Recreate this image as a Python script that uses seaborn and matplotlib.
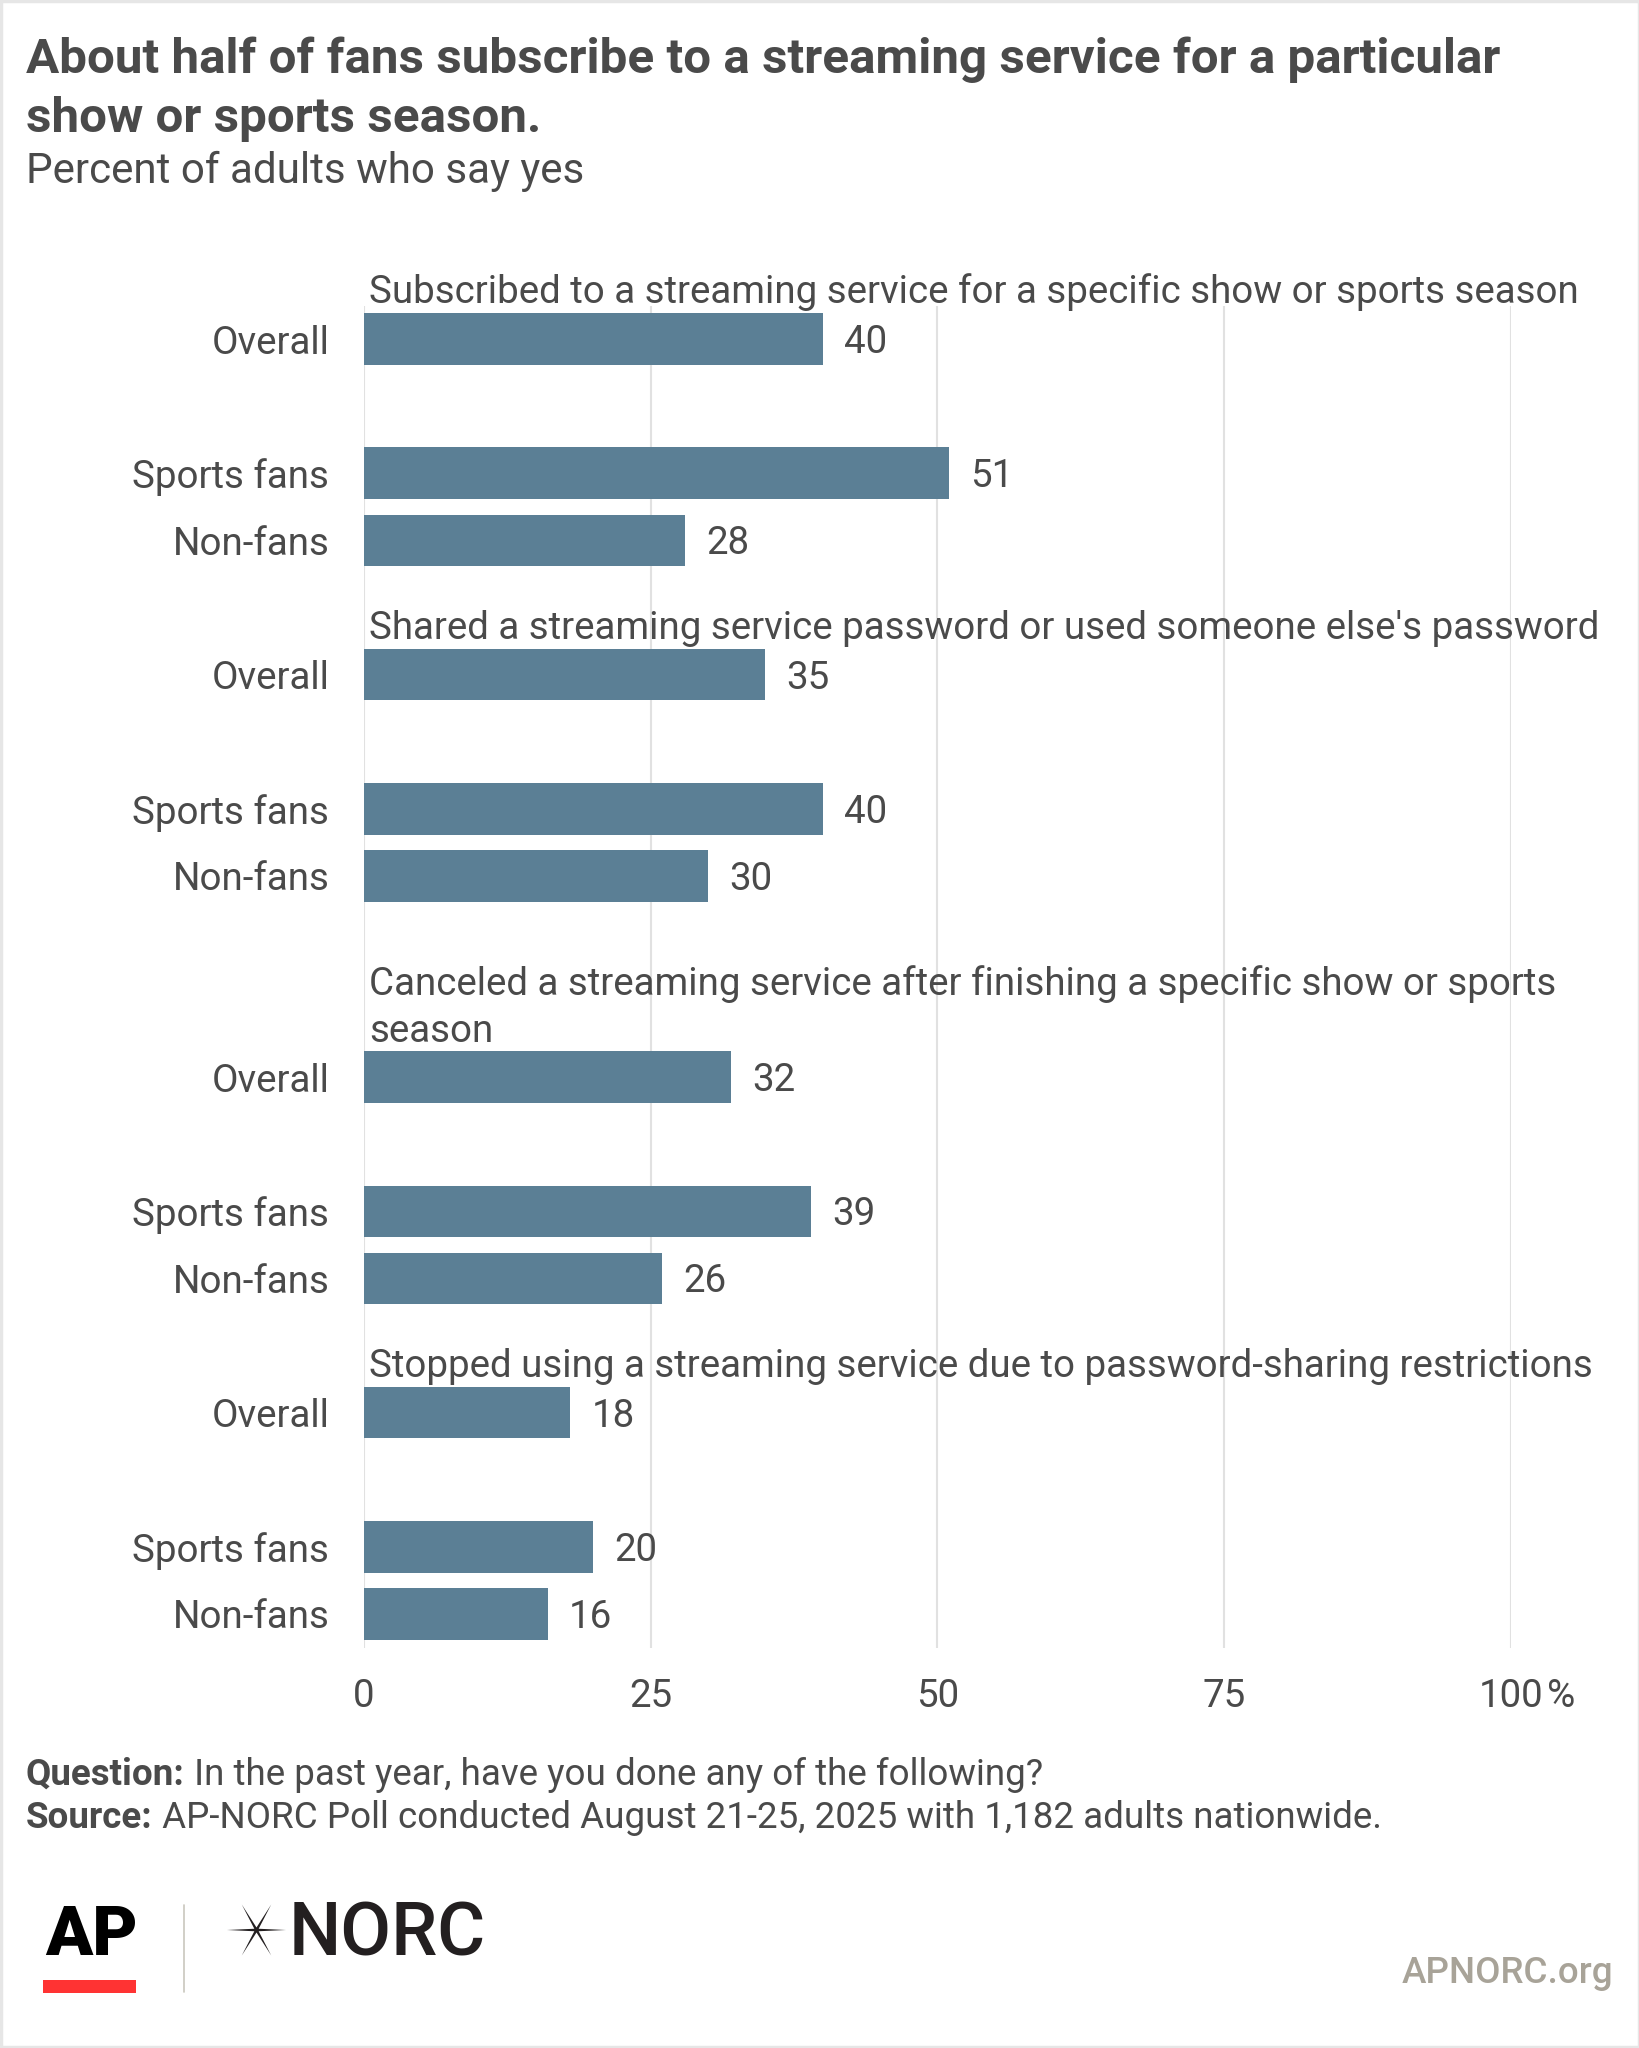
import numpy as np
import pandas as pd
import matplotlib
matplotlib.use('Agg')
import matplotlib.pyplot as plt
from matplotlib.patches import Rectangle, Polygon
import seaborn as sns

# values
title_lines = ["About half of fans subscribe to a streaming service for a particular",
               "show or sports season."]
subtitle = "Percent of adults who say yes"
group_titles = [
    "Subscribed to a streaming service for a specific show or sports season",
    "Shared a streaming service password or used someone else's password",
    "Canceled a streaming service after finishing a specific show or sports\nseason",
    "Stopped using a streaming service due to password-sharing restrictions",
]
row_labels = ["Overall", "Sports fans", "Non-fans"]
overall = [40, 35, 32, 18]
sports_fans = [51, 40, 39, 20]
non_fans = [28, 30, 26, 16]
x_ticks = [0, 25, 50, 75, 100]
question = "In the past year, have you done any of the following?"
source = "AP-NORC Poll conducted August 21-25, 2025 with 1,182 adults nationwide."

BAR = '#5b7f95'
TXT = '#4a4a4a'
GRID = '#e1e1e1'
FS = 27.7  # label font size

# build the long table, leaving gaps between groups (one extra row for a wrapped title)
rows = []
pos = 0
for i, g in enumerate(group_titles):
    pos += g.count('\n')
    vals = [overall[i], sports_fans[i], non_fans[i]]
    for lab, off, v in zip(row_labels, [0, 2, 3], vals):
        rows.append(dict(group=i, label=lab, pos=pos + off, value=v))
    pos += 5
df = pd.DataFrame(rows)

sns.set_style('white')
plt.rcParams['font.family'] = ['Roboto', 'DejaVu Sans']

W, H = 1640, 2048
fig = plt.figure(figsize=(W / 100, H / 100), dpi=100)

# background axes in pixel coordinates for titles, footer and logos
bg = fig.add_axes([0, 0, 1, 1])
bg.set_xlim(0, W)
bg.set_ylim(H, 0)
bg.axis('off')

ax = fig.add_axes([364 / W, 1 - 1647.5 / H, 1147 / W, 1342 / H])
ax.patch.set_alpha(0)

sns.barplot(data=df, x='value', y='pos', orient='h', native_scale=True,
            width=0.77, color=BAR, saturation=1, errorbar=None, linewidth=0, ax=ax)
for t in ax.bar_label(ax.containers[0], padding=15, fontsize=FS, color=TXT):
    t.xyann = (15, -2.5)

ax.set_xlim(0, 100)
ax.set_ylim(19.5, -0.5)
ax.set_yticks(df['pos'])
ax.set_yticklabels(df['label'])
ax.set_xticks(x_ticks)
ax.set_xticklabels([str(t) for t in x_ticks])
ax.tick_params(axis='y', length=0, pad=25, labelsize=FS, labelcolor=TXT)
ax.tick_params(axis='x', length=0, pad=22, labelsize=FS, labelcolor=TXT)
for t in ax.get_yticklabels():
    t.set_va('center_baseline')
ax.grid(axis='x', color=GRID, lw=1.5)
ax.grid(axis='y', visible=False)
ax.set_axisbelow(True)
ax.set_xlabel('')
ax.set_ylabel('')
for s in ax.spines.values():
    s.set_visible(False)
ax.annotate('%', xy=(100, 0), xycoords=('data', 'axes fraction'), xytext=(26, -22),
            textcoords='offset points', ha='left', va='top', fontsize=FS, color=TXT)

# group headings above each Overall bar
for i, g in enumerate(group_titles):
    p = df.loc[(df.group == i) & (df.label == 'Overall'), 'pos'].iloc[0]
    for k, line in enumerate(reversed(g.split('\n'))):
        ax.annotate(line, xy=(0, p - 0.53), xycoords='data', xytext=(3.5, 33.8 * k),
                    textcoords='offset points', ha='left', va='baseline',
                    fontsize=FS, color=TXT, annotation_clip=False)

# title block
for k, line in enumerate(title_lines):
    bg.text(26, 73.3 + 58.4 * k, line, fontsize=35.6, weight='bold', color=TXT, va='baseline')
bg.text(26, 183, subtitle, fontsize=30.3, color=TXT, va='baseline')

# footer
qt = bg.text(26, 1785, "Question:", fontsize=26.5, weight='bold', color=TXT, va='baseline')
bg.annotate(" " + question, xy=(1, 0), xycoords=qt, va='bottom', ha='left', fontsize=26.5, color=TXT)
st = bg.text(26, 1828, "Source:", fontsize=26.5, weight='bold', color=TXT, va='baseline')
bg.annotate(" " + source, xy=(1, 0), xycoords=st, va='bottom', ha='left', fontsize=26.5, color=TXT)

# logos
bg.text(45, 1955, "AP", fontsize=50, weight='black', color='black', va='baseline')
bg.add_patch(Rectangle((43, 1980), 93, 13, color='#ff3333', lw=0))
bg.plot([184, 184], [1905, 1992], color='#c9c7bd', lw=1.2)
ang = np.deg2rad(np.arange(12) * 30)
rad = np.where(np.arange(12) % 2 == 0, 29.5, 2.5)
bg.add_patch(Polygon(np.c_[256.5 + rad * np.cos(ang), 1930 + rad * np.sin(ang)],
                     closed=True, color='#231f20', lw=0))
bg.text(289, 1955, "NORC", fontsize=53, weight='medium', color='#231f20', va='baseline')
bg.text(1613, 1983, "APNORC.org", fontsize=26.5, weight='medium', color='#a8a398',
        va='baseline', ha='right')

# light frame around the graphic
bg.add_patch(Rectangle((1, 1), W - 2, H - 2, fill=False, edgecolor='#e6e6e6', lw=2.5))

fig.savefig('out.png', dpi=100)
